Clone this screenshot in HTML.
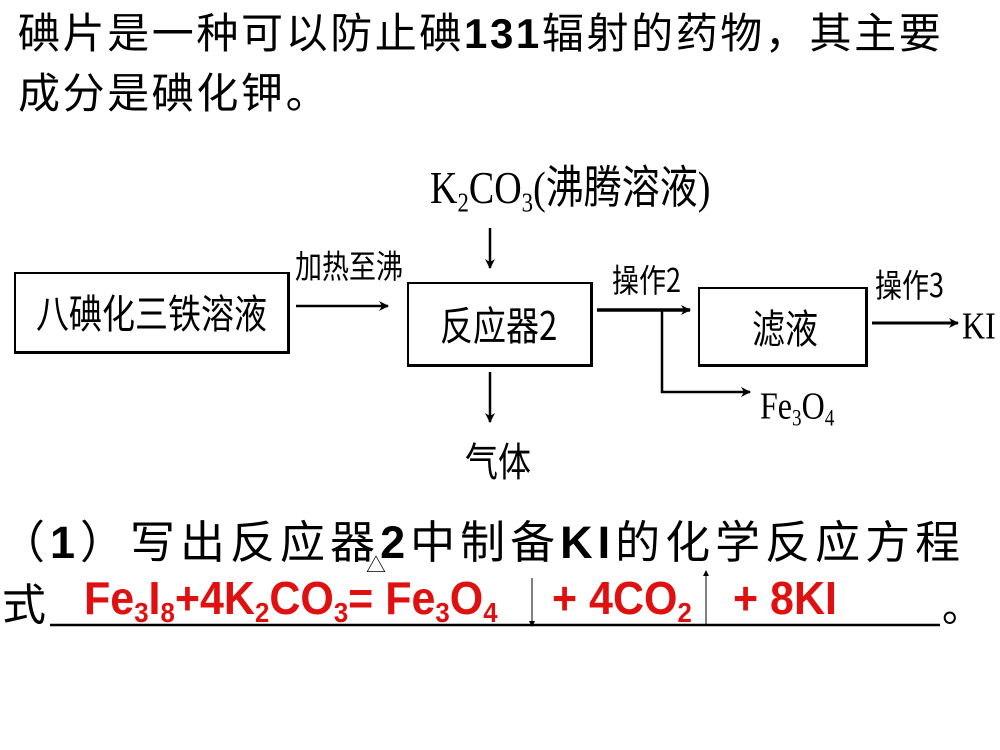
<!DOCTYPE html>
<html><head><meta charset="utf-8"><style>
body{margin:0;width:1000px;height:750px;background:#fff;position:relative;overflow:hidden;font-family:"Liberation Sans","WenQuanYi Zen Hei","Noto Sans CJK SC",sans-serif;color:#000}
.a{position:absolute;white-space:nowrap;line-height:1}
.box{position:absolute;border:2px solid #000;border-bottom-width:3px;border-right-width:3px;box-sizing:border-box}
.d{font-family:"WenQuanYi Zen Hei","Noto Sans CJK SC",sans-serif;font-size:33px;transform:scaleY(1.2);transform-origin:left top}
.red{color:#e01010;font-weight:bold;font-size:43px;transform:scaleY(1.08);transform-origin:left top}
sub{font-size:60%;vertical-align:-0.3em}
</style></head><body>
<div class="a" style="left:18px;top:13px;font-size:42px;letter-spacing:2.6px">碘片是一种可以防止碘<b>131</b>辐射的药物，其主要</div>
<div class="a" style="left:18px;top:73px;font-size:42px;letter-spacing:2.6px">成分是碘化钾。</div>

<div class="box" style="left:14px;top:272px;width:276px;height:82px"></div>
<div class="box" style="left:407px;top:282px;width:186px;height:85px"></div>
<div class="box" style="left:698px;top:287px;width:170px;height:80px"></div>

<div class="a d" style="left:36px;top:292px">八碘化三铁溶液</div>
<div class="a d" style="left:440px;top:304px">反应器2</div>
<div class="a d" style="left:752px;top:307px">滤液</div>
<div class="a d" style="left:430px;top:166px;font-family:'Liberation Serif','WenQuanYi Zen Hei',serif;font-size:38px">K<sub>2</sub>CO<sub>3</sub>(沸腾溶液)</div>
<div class="a d" style="left:295px;top:248px;font-size:27px">加热至沸</div>
<div class="a d" style="left:612px;top:262px;font-size:27px">操作2</div>
<div class="a d" style="left:875px;top:267px;font-size:27px">操作3</div>
<div class="a d" style="left:760px;top:386px;font-family:'Liberation Serif',serif;font-size:32px">Fe<sub>3</sub>O<sub>4</sub></div>
<div class="a d" style="left:962px;top:306px;font-family:'Liberation Serif',serif;font-size:32px">KI</div>
<div class="a d" style="left:465px;top:440px;font-size:33px">气体</div>

<svg width="1000" height="750" style="position:absolute;left:0;top:0">
<defs><marker id="m" markerWidth="10" markerHeight="10" refX="9" refY="5" orient="auto" markerUnits="userSpaceOnUse"><path d="M0,0L10,5L0,10L3,5z" fill="#000"/></marker></defs>
<g stroke="#000" stroke-width="2.5" fill="none">
<line x1="296" y1="306" x2="388" y2="306" marker-end="url(#m)"/>
<line x1="490" y1="228" x2="490" y2="268" marker-end="url(#m)"/>
<line x1="597" y1="310" x2="690" y2="310" stroke-width="3.5" marker-end="url(#m)"/>
<polyline points="662,310 662,392 750,392" marker-end="url(#m)"/>
<line x1="490" y1="372" x2="490" y2="422" marker-end="url(#m)"/>
<line x1="872" y1="323" x2="958" y2="323" stroke-width="3" marker-end="url(#m)"/>
<line x1="50" y1="625" x2="940" y2="625" stroke-width="2.5"/>
<line x1="532" y1="578" x2="532" y2="626" stroke-width="1"/>
<line x1="706" y1="572" x2="706" y2="626" stroke-width="1"/>
</g>
<path d="M532,627 l-3,-6 h6z M706,570 l-3,6 h6z" fill="#000"/>
</svg>

<div class="a" style="left:0px;top:520px;font-size:45px;letter-spacing:5px">（<b>1</b>）写出反应器<b>2</b>中制备<b>KI</b>的化学反应方程</div>
<div class="a" style="left:366px;top:556px;font-size:20px">△</div>
<div class="a" style="left:2px;top:584px;font-size:44px">式</div>
<div class="a red" style="left:84px;top:576px">Fe<sub>3</sub>I<sub>8</sub>+4K<sub>2</sub>CO<sub>3</sub>= Fe<sub>3</sub>O<sub>4</sub></div>
<div class="a red" style="left:552px;top:576px">+ 4CO<sub>2</sub></div>
<div class="a red" style="left:733px;top:576px">+ 8KI</div>
<div class="a" style="left:942px;top:588px;font-size:40px">。</div>
</body></html>
